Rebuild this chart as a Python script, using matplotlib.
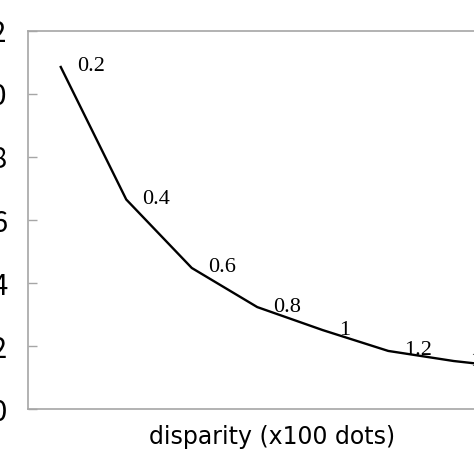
import matplotlib
matplotlib.use("Agg")
import matplotlib.pyplot as plt

# disparity values (x100 dots) and measured quantity
disparity = [0.2, 0.4, 0.6, 0.8, 1, 1.2, 1.4, 1.6]
values = [10.85, 6.65, 4.48, 3.24, 2.51, 1.85, 1.53, 1.30]
point_labels = ["0.2", "0.4", "0.6", "0.8", "1", "1.2", "1.4", "1.6"]
yticks = [0, 2, 4, 6, 8, 10, 12]

gothic = ["Noto Sans CJK JP", "DejaVu Sans"]

fig = plt.figure(figsize=(4.74, 4.74), dpi=100)
# axes run past the right edge, like the cropped original
ax = fig.add_axes([28/474, 64.7/474, 524/474, 378.6/474])

xpos = list(range(len(disparity)))
ax.plot(xpos, values, color="black", lw=1.7, solid_joinstyle="miter")
for x, y, lab in zip(xpos, values, point_labels):
    ax.annotate(lab, (x, y), xytext=(11.5, 0), textcoords="offset points",
                ha="left", va="center", fontsize=16, family="Liberation Serif")

ax.set_xlim(-0.5, len(disparity) - 0.5)
ax.set_ylim(0, 12)
ax.set_yticks(yticks)
ax.set_yticklabels([str(t) for t in yticks], fontsize=21, family=gothic)
ax.set_xticks([])
ax.tick_params(axis="y", direction="in", length=6.5, width=1, color="#a6a6a6", pad=15)
for s in ["left", "bottom", "top", "right"]:
    ax.spines[s].set_color("#a6a6a6")
    ax.spines[s].set_linewidth(1.2)

fig.text(272/474, 37/474, "disparity (x100 dots)", ha="center", va="center",
         fontsize=17, family="DejaVu Sans")

fig.savefig("out.png", dpi=100)
